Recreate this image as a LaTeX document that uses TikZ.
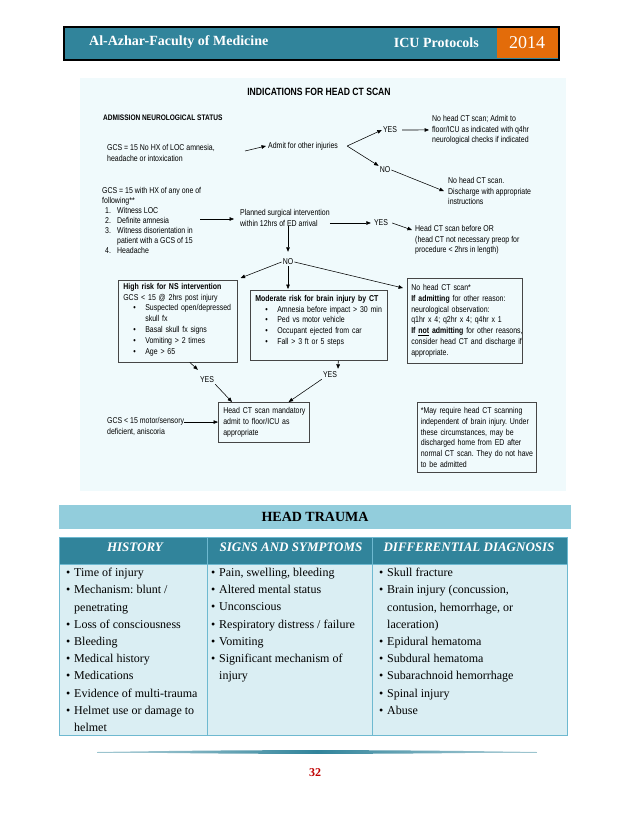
\documentclass[tikz,border=0pt]{standalone}
\usepackage{fontspec}
\setmainfont{Liberation Serif}
\newfontfamily\nar[FakeStretch=0.82]{Liberation Sans}
\usetikzlibrary{arrows.meta}
\frenchspacing
\definecolor{teal1}{RGB}{49,132,155}
\definecolor{orng}{RGB}{227,108,10}
\definecolor{band}{RGB}{146,205,220}
\definecolor{bodyc}{RGB}{218,238,243}
\definecolor{gridc}{RGB}{110,185,208}
\definecolor{panel}{RGB}{240,250,252}
\definecolor{pgred}{RGB}{192,0,0}
\definecolor{boxline}{RGB}{70,70,70}
\newcommand{\fcf}{\nar\fontsize{8.5}{10.8}\selectfont}
\newcommand{\fb}[1]{\mbox{\hspace*{10pt}\makebox[12pt][l]{•}#1}}
\newcommand{\nl}[2]{\hspace*{3pt}\makebox[12pt][l]{#1}#2}
\newcommand{\tb}[1]{\makebox[8pt][l]{\textbullet}#1}
\begin{document}
\begin{tikzpicture}[x=1pt,y=-1pt,
  fc/.style={font=\fcf, inner sep=0pt, align=left, anchor=north west},
  lbl/.style={font=\fcf, inner sep=1pt},
  fbox/.style={draw=boxline, line width=0.6pt, font=\fcf, align=left, anchor=north west, inner xsep=5pt, inner ysep=4pt},
  arr/.style={-{Triangle[length=4.5pt,width=3.6pt]}, line width=0.55pt},
  tcol/.style={font=\fontsize{12}{17.2}\selectfont, inner sep=0pt, align=left, anchor=north west},
  thead/.style={font=\bfseries\itshape\fontsize{13}{15}\selectfont, text=white, inner sep=0pt},
  hdr/.style={font=\bfseries\fontsize{14}{16}\selectfont, text=white, inner sep=0pt}]
\useasboundingbox (0,0) rectangle (638,826);
\fill[white] (0,0) rectangle (638,826);

% ---------- page header ----------
\draw[line width=1.2pt, fill=teal1] (64,27) rectangle (559,60);
\fill[orng] (497,28.5) rectangle (557.5,58.5);
\node[hdr, anchor=west] (hl) at (89,42.5) {Al-Azhar-Faculty of Medicine};
\node[hdr, anchor=east] (hc) at (479,42.5) {ICU Protocols};
\node[font=\fontsize{18}{20}\selectfont, text=white, inner sep=0pt] (yr) at (527,43) {2014};

% ---------- flowchart ----------
\fill[panel] (80,78) rectangle (566,491);
\node[font=\nar\bfseries\fontsize{10.5}{12}\selectfont, inner sep=0pt] (title) at (319,92) {INDICATIONS FOR HEAD CT SCAN};
\node[font=\nar\bfseries\fontsize{8}{10}\selectfont, inner sep=0pt, anchor=west] (adm) at (103,118) {ADMISSION NEUROLOGICAL STATUS};

\node[fc] (gcs1) at (107,144) {GCS = 15 No HX of LOC amnesia,\\headache or intoxication};
\node[fc, anchor=west] (admit) at (268,146) {Admit for other injuries};
\node[lbl] (yes1) at (390,130) {YES};
\node[lbl] (no1) at (385,170) {NO};
\node[fc] (tr) at (432,115) {No head CT scan; Admit to\\floor/ICU as indicated with q4hr\\neurological checks if indicated};
\node[fc] (disch) at (448,177) {No head CT scan.\\Discharge with appropriate\\instructions};

\node[fc, font=\nar\fontsize{8.5}{10.1}\selectfont] (gcs2) at (102,187) {GCS = 15 with HX of any one of\\following**\\\nl{1.}{Witness LOC}\\\nl{2.}{Definite amnesia}\\\nl{3.}{Witness disorientation in}\\\hspace*{15pt}patient with a GCS of 15\\\nl{4.}{Headache}};
\node[fc] (plan) at (240,209) {Planned surgical intervention\\within 12hrs of ED arrival};
\node[lbl] (yes2) at (381,223) {YES};
\node[fc] (hct1) at (415,225) {Head CT scan before OR\\(head CT not necessary preop for\\procedure < 2hrs in length)};
\node[lbl] (no2) at (288,262) {NO};

\node[fbox, text width=109pt, inner ysep=2.8pt] (hr) at (118,280) {\textbf{High risk for NS intervention}\\GCS < 15 @ 2hrs post injury\\\fb{Suspected open/depressed}\\\hspace*{22pt}skull fx\\\fb{Basal skull fx signs}\\\fb{Vomiting > 2 times}\\\fb{Age > 65}\rule[-5.2pt]{0pt}{5.2pt}};
\node[fbox, text width=127pt, inner ysep=4.8pt] (mod) at (250,290) {\mbox{\textbf{Moderate risk for brain injury by CT}}\\\fb{Amnesia before impact > 30 min}\\\fb{Ped vs motor vehicle}\\\fb{Occupant ejected from car}\\\fb{Fall > 3 ft or 5 steps}\rule[-11pt]{0pt}{11pt}};
\node[fbox, text width=107pt, inner xsep=4pt, inner ysep=6pt] (nh) at (407,278) {No head CT scan*\\\textbf{If admitting} for other reason:\\neurological observation:\\q1hr x 4; q2hr x 4; q4hr x 1\\\mbox{\textbf{If \underline{not} admitting} for other reasons,}\\\mbox{consider head CT and discharge if}\\appropriate.};

\node[lbl] (yes3) at (207,380) {YES};
\node[lbl] (yes4) at (330,375) {YES};
\node[fbox, text width=81pt, inner ysep=5pt] (hm) at (218,402) {\mbox{Head CT scan mandatory}\\\mbox{admit to floor/ICU as}\\appropriate};
\node[fc] (gcs3) at (107,417) {GCS < 15 motor/sensory\\deficient, aniscoria};
\node[fbox, text width=112pt, inner xsep=3.5pt, inner ysep=5pt] (fn) at (417,402) {\mbox{*May require head CT scanning}\\\mbox{independent of brain injury. Under}\\these circumstances, may be\\discharged home from ED after\\\mbox{normal CT scan. They do not have}\\to be admitted};

% connectors
\coordinate (a1s) at (245,151);
\draw[arr] (a1s) -- ([xshift=-2pt]admit.west);
\draw[arr] ([xshift=9pt]admit.east) -- (yes1.west);
\draw[arr] ([xshift=9pt]admit.east) -- (no1.north west);
\draw[arr] ([xshift=4pt]yes1.east) -- ([xshift=-3pt]tr.west);
\draw[arr] (no1.east) -- ([xshift=-4pt]disch.west);
\coordinate (g2e) at (200,219);
\draw[arr] (g2e) -- ([xshift=-6pt]g2e -| plan.west);
\draw[arr] (plan.east |- yes2.west) -- ([xshift=-2pt]yes2.west);
\draw[arr] ([xshift=3pt]yes2.east) -- ([xshift=-3pt,yshift=-5pt]hct1.north west);
\draw[arr] (no2 |- plan.south) -- ([yshift=6pt]no2.north);
\draw[arr] (no2.west) -- ([xshift=3pt,yshift=2pt]hr.north east);
\draw[arr, shorten >=1pt] (no2.south) -- (no2.south |- mod.north);
\draw[arr] (no2.east) -- ([xshift=-4pt,yshift=-10pt]nh.north west);
\draw[arr] ([xshift=12pt]hr.south) -- ([xshift=-1pt,yshift=6pt]yes3.north west);
\draw[arr] (yes3.south east) -- ([xshift=14pt]hm.north west);
\draw[arr] ([xshift=19.5pt]mod.south) -- ([xshift=8pt,yshift=2pt]yes4.north);
\draw[arr] (yes4.south west) -- ([xshift=-21pt]hm.north east);
\draw[arr] (gcs3.east |- hm.west) -- (hm.west);

% ---------- table ----------
\fill[band] (59,505) rectangle (571,529);
\node[font=\bfseries\fontsize{14}{16}\selectfont, inner sep=0pt] (ht) at (315,517) {HEAD TRAUMA};
\fill[teal1] (59,537) rectangle (567,564);
\fill[bodyc] (59,564) rectangle (567,735);
\draw[gridc, line width=1pt] (59,537) rectangle (567,735);
\draw[gridc, line width=1pt] (207,537) -- (207,735);
\draw[gridc, line width=1pt] (372,537) -- (372,735);
\draw[gridc, line width=1pt] (59,564) -- (567,564);
\node[thead] (h1) at (135,547) {HISTORY};
\node[thead] (h2) at (291,547) {SIGNS AND SYMPTOMS};
\node[thead] (h3) at (469,547) {DIFFERENTIAL DIAGNOSIS};
\node[tcol] (c1) at (66,568) {\tb{Time of injury}\\\tb{Mechanism: blunt /}\\\hspace*{8pt}penetrating\\\tb{Loss of consciousness}\\\tb{Bleeding}\\\tb{Medical history}\\\tb{Medications}\\\tb{Evidence of multi-trauma}\\\tb{Helmet use or damage to}\\\hspace*{8pt}helmet};
\node[tcol] (c2) at (211,568) {\tb{Pain, swelling, bleeding}\\\tb{Altered mental status}\\\tb{Unconscious}\\\tb{Respiratory distress / failure}\\\tb{Vomiting}\\\tb{Significant mechanism of}\\\hspace*{8pt}injury};
\node[tcol] (c3) at (379,568) {\tb{Skull fracture}\\\tb{Brain injury (concussion,}\\\hspace*{8pt}contusion, hemorrhage, or\\\hspace*{8pt}laceration)\\\tb{Epidural hematoma}\\\tb{Subdural hematoma}\\\tb{Subarachnoid hemorrhage}\\\tb{Spinal injury}\\\tb{Abuse}};

% ---------- footer ----------
\draw[teal1!50, line width=0.6pt] (97,752) -- (537,752);
\shade[left color=teal1!35, right color=teal1!35, middle color=teal1] (97,752) .. controls (250,749.5) and (380,749.5) .. (537,752) .. controls (380,754.5) and (250,754.5) .. (97,752) -- cycle;
\node[font=\bfseries\fontsize{12}{14}\selectfont, text=pgred, inner sep=0pt] (pg) at (315,773) {32};
\end{tikzpicture}
\end{document}
